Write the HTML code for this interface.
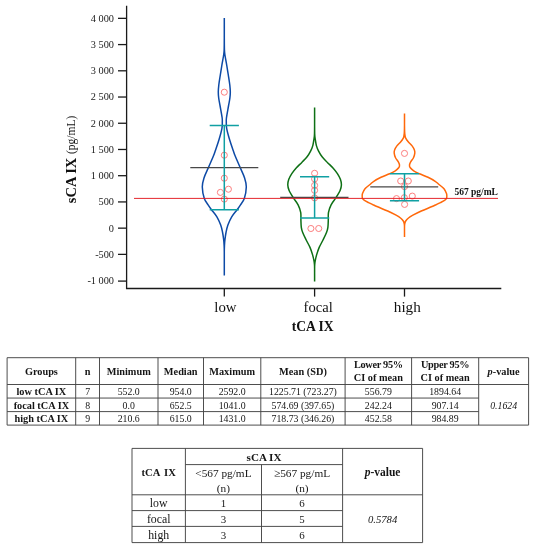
<!DOCTYPE html>
<html lang="en">
<head>
<meta charset="utf-8">
<title>sCA IX by tCA IX group</title>
<style>
html,body{margin:0;padding:0;background:#fff;}
body{width:535px;height:550px;position:relative;overflow:hidden;font-family:"Liberation Serif",serif;color:#151515;}
table{border-collapse:separate;border-spacing:0;table-layout:fixed;position:absolute;border:0;}
td,th{border:0;padding:0;text-align:center;vertical-align:middle;font-weight:normal;overflow:visible;white-space:nowrap;}
td>span,th>span{display:block;position:relative;}
#t2 tr.q0 th span{top:1.1px}#t2 tr.q0 th.s span{top:.9px;font-size:11.1px}#t2 tr.q0 th.t span{font-size:10.6px;top:1.8px;word-spacing:1.6px}#t2 tr.q1 span{top:1.1px;font-size:11.3px}#t2 tr.q2 span{top:.7px}#t2 tr.q3 span{top:.5px}#t2 tr.q4 span{top:.6px}#t2 td.pv span{top:.6px;font-size:10.7px}#t2 td:not(.l):not(.pv):not(.hd)>span{font-size:10.9px}#t2 td.l span{font-size:11.8px;margin-top:.7px}
#t1 tr.h span{top:.75px}#t1 tr.h th.two>span{top:1.2px;line-height:12.8px}#t1 tr.h th.two .ls{top:0}#t1 tr.r1 span{top:1.05px}#t1 tr.r2 span{top:1.1px}#t1 tr.r3 span{top:1.35px}#t1 td.pv span{top:1.3px}#t1 .ls{letter-spacing:-.3px}
#t1{left:7.10px;top:357.70px;width:521.50px;font-size:9.8px;line-height:12.4px;}
#t1 th{font-weight:bold;font-size:10.3px;}
#t1 td.g{font-weight:bold;font-size:10.3px;}
#t2{left:132.00px;top:448.40px;width:290.60px;font-size:11.5px;line-height:14.6px;}
#t2 th{font-weight:bold;}
i.p{font-style:italic;}
</style>
</head>
<body>
<svg width="535" height="550" viewBox="0 0 535 550" style="position:absolute;left:0;top:0">
<g stroke="#1a1a1a" stroke-width="1.3" fill="none">
<path d="M126.6 5.8 V288.50 H501.3"/>
<path d="M118 18.35 H126.6"/>
<path d="M118 44.58 H126.6"/>
<path d="M118 70.80 H126.6"/>
<path d="M118 97.03 H126.6"/>
<path d="M118 123.25 H126.6"/>
<path d="M118 149.48 H126.6"/>
<path d="M118 175.70 H126.6"/>
<path d="M118 201.93 H126.6"/>
<path d="M118 228.15 H126.6"/>
<path d="M118 254.38 H126.6"/>
<path d="M118 281.10 H126.6"/>
<path d="M224.3 288.50 V296.6"/>
<path d="M314.6 288.50 V296.6"/>
<path d="M404.5 288.50 V296.6"/>
</g>
<g font-family="'Liberation Serif', serif" font-size="10.3" fill="#1a1a1a" text-anchor="end">
<text x="114" y="21.70">4 000</text>
<text x="114" y="47.93">3 500</text>
<text x="114" y="74.15">3 000</text>
<text x="114" y="100.38">2 500</text>
<text x="114" y="126.60">2 000</text>
<text x="114" y="152.83">1 500</text>
<text x="114" y="179.05">1 000</text>
<text x="114" y="205.28">500</text>
<text x="114" y="231.50">0</text>
<text x="114" y="257.73">-500</text>
<text x="114" y="284.45">-1 000</text>
</g>
<g fill="none" stroke="#fb7878" stroke-width="0.95">
<circle cx="224.3" cy="92.2" r="3.05"/><circle cx="224.3" cy="155.2" r="3.05"/><circle cx="224.3" cy="178.2" r="3.05"/><circle cx="228.4" cy="189.2" r="3.05"/><circle cx="220.4" cy="192.4" r="3.05"/><circle cx="224.3" cy="199.1" r="3.05"/>
<circle cx="314.6" cy="173.3" r="3.05"/><circle cx="314.6" cy="178.9" r="3.05"/><circle cx="314.6" cy="185.4" r="3.05"/><circle cx="314.6" cy="190.3" r="3.05"/><circle cx="314.6" cy="197.9" r="3.05"/><circle cx="310.9" cy="228.5" r="3.05"/><circle cx="318.7" cy="228.5" r="3.05"/>
<circle cx="404.5" cy="153.4" r="3.05"/><circle cx="400.7" cy="181.0" r="3.05"/><circle cx="408.3" cy="181.0" r="3.05"/><circle cx="404.5" cy="186.6" r="3.05"/><circle cx="396.5" cy="198.6" r="3.05"/><circle cx="404.3" cy="197.7" r="3.05"/><circle cx="412.3" cy="196.1" r="3.05"/><circle cx="404.6" cy="204.4" r="3.05"/>
</g>
<path d="M224.30 17.90 C224.30 20.75 224.33 29.65 224.30 35.00 C224.28 40.35 224.28 46.50 224.15 50.00 C224.02 53.50 223.88 53.50 223.50 56.00 C223.12 58.50 222.43 61.83 221.90 65.00 C221.37 68.17 220.82 71.67 220.30 75.00 C219.78 78.33 219.13 82.17 218.80 85.00 C218.47 87.83 218.32 89.83 218.30 92.00 C218.28 94.17 218.40 95.67 218.70 98.00 C219.00 100.33 219.53 102.75 220.10 106.00 C220.67 109.25 221.73 114.83 222.10 117.50 C222.47 120.17 222.33 120.15 222.30 122.00 C222.27 123.85 222.47 125.60 221.90 128.60 C221.33 131.60 220.02 136.27 218.90 140.00 C217.78 143.73 216.08 148.42 215.20 151.00 C214.32 153.58 214.72 152.77 213.60 155.50 C212.48 158.23 210.10 163.67 208.50 167.40 C206.90 171.13 205.03 174.65 204.00 177.90 C202.97 181.15 202.25 183.48 202.30 186.90 C202.35 190.32 203.33 195.42 204.30 198.40 C205.27 201.38 206.90 202.92 208.10 204.80 C209.30 206.68 210.03 207.70 211.50 209.70 C212.97 211.70 215.37 214.25 216.90 216.80 C218.43 219.35 219.77 222.47 220.70 225.00 C221.63 227.53 222.00 229.50 222.50 232.00 C223.00 234.50 223.43 237.67 223.70 240.00 C223.98 242.33 224.05 244.00 224.15 246.00 C224.25 248.00 224.28 249.33 224.30 252.00 C224.33 254.67 224.30 258.07 224.30 262.00 C224.30 265.93 224.30 273.33 224.30 275.60 M224.30 17.90 C224.30 20.75 224.28 29.65 224.30 35.00 C224.33 40.35 224.32 46.50 224.45 50.00 C224.58 53.50 224.73 53.50 225.10 56.00 C225.48 58.50 226.17 61.83 226.70 65.00 C227.23 68.17 227.78 71.67 228.30 75.00 C228.82 78.33 229.47 82.17 229.80 85.00 C230.13 87.83 230.28 89.83 230.30 92.00 C230.32 94.17 230.20 95.67 229.90 98.00 C229.60 100.33 229.07 102.75 228.50 106.00 C227.93 109.25 226.87 114.83 226.50 117.50 C226.13 120.17 226.27 120.15 226.30 122.00 C226.33 123.85 226.13 125.60 226.70 128.60 C227.27 131.60 228.58 136.27 229.70 140.00 C230.82 143.73 232.52 148.42 233.40 151.00 C234.28 153.58 233.88 152.77 235.00 155.50 C236.12 158.23 238.50 163.67 240.10 167.40 C241.70 171.13 243.57 174.65 244.60 177.90 C245.63 181.15 246.35 183.48 246.30 186.90 C246.25 190.32 245.27 195.42 244.30 198.40 C243.33 201.38 241.70 202.92 240.50 204.80 C239.30 206.68 238.57 207.70 237.10 209.70 C235.63 211.70 233.23 214.25 231.70 216.80 C230.17 219.35 228.83 222.47 227.90 225.00 C226.97 227.53 226.60 229.50 226.10 232.00 C225.60 234.50 225.18 237.67 224.90 240.00 C224.62 242.33 224.55 244.00 224.45 246.00 C224.35 248.00 224.33 249.33 224.30 252.00 C224.28 254.67 224.30 258.07 224.30 262.00 C224.30 265.93 224.30 273.33 224.30 275.60" fill="none" stroke="#0d4aa6" stroke-width="1.5" stroke-linecap="butt" stroke-linejoin="round"/>
<path d="M314.60 107.50 C314.60 110.42 314.62 120.42 314.60 125.00 C314.58 129.58 314.58 132.50 314.45 135.00 C314.32 137.50 314.08 138.23 313.80 140.00 C313.52 141.77 313.33 143.73 312.80 145.60 C312.27 147.47 311.55 149.33 310.60 151.20 C309.65 153.07 308.57 154.93 307.10 156.80 C305.63 158.67 303.62 160.53 301.80 162.40 C299.98 164.27 297.87 166.13 296.20 168.00 C294.53 169.87 293.03 171.72 291.80 173.60 C290.57 175.48 289.47 177.42 288.80 179.30 C288.13 181.18 287.75 183.03 287.80 184.90 C287.85 186.77 288.43 188.77 289.10 190.50 C289.77 192.23 291.03 193.98 291.80 195.30 C292.57 196.62 292.65 196.82 293.70 198.40 C294.75 199.98 296.93 202.48 298.10 204.80 C299.27 207.12 300.23 209.80 300.70 212.30 C301.17 214.80 300.80 217.30 300.90 219.80 C301.00 222.30 301.00 225.18 301.30 227.30 C301.60 229.42 301.88 230.38 302.70 232.50 C303.52 234.62 304.98 237.52 306.20 240.00 C307.42 242.48 308.93 244.92 310.00 247.40 C311.07 249.88 311.93 252.65 312.60 254.90 C313.27 257.15 313.68 259.22 314.00 260.90 C314.32 262.58 314.40 263.65 314.50 265.00 C314.60 266.35 314.58 267.33 314.60 269.00 C314.62 270.67 314.60 272.92 314.60 275.00 C314.60 277.08 314.60 280.42 314.60 281.50 M314.60 107.50 C314.60 110.42 314.58 120.42 314.60 125.00 C314.62 129.58 314.62 132.50 314.75 135.00 C314.88 137.50 315.12 138.23 315.40 140.00 C315.68 141.77 315.87 143.73 316.40 145.60 C316.93 147.47 317.65 149.33 318.60 151.20 C319.55 153.07 320.63 154.93 322.10 156.80 C323.57 158.67 325.58 160.53 327.40 162.40 C329.22 164.27 331.33 166.13 333.00 168.00 C334.67 169.87 336.17 171.72 337.40 173.60 C338.63 175.48 339.73 177.42 340.40 179.30 C341.07 181.18 341.45 183.03 341.40 184.90 C341.35 186.77 340.77 188.77 340.10 190.50 C339.43 192.23 338.17 193.98 337.40 195.30 C336.63 196.62 336.55 196.82 335.50 198.40 C334.45 199.98 332.27 202.48 331.10 204.80 C329.93 207.12 328.97 209.80 328.50 212.30 C328.03 214.80 328.40 217.30 328.30 219.80 C328.20 222.30 328.20 225.18 327.90 227.30 C327.60 229.42 327.32 230.38 326.50 232.50 C325.68 234.62 324.22 237.52 323.00 240.00 C321.78 242.48 320.27 244.92 319.20 247.40 C318.13 249.88 317.27 252.65 316.60 254.90 C315.93 257.15 315.52 259.22 315.20 260.90 C314.88 262.58 314.80 263.65 314.70 265.00 C314.60 266.35 314.62 267.33 314.60 269.00 C314.58 270.67 314.60 272.92 314.60 275.00 C314.60 277.08 314.60 280.42 314.60 281.50" fill="none" stroke="#0e7015" stroke-width="1.5" stroke-linecap="butt" stroke-linejoin="round"/>
<path d="M404.50 113.60 C404.50 115.50 404.52 121.93 404.50 125.00 C404.48 128.07 404.43 130.25 404.35 132.00 C404.27 133.75 404.18 134.48 404.00 135.50 C403.82 136.52 403.87 137.02 403.30 138.10 C402.73 139.18 401.67 140.70 400.60 142.00 C399.53 143.30 397.90 144.58 396.90 145.90 C395.90 147.22 395.05 148.70 394.60 149.90 C394.15 151.10 394.05 151.80 394.20 153.10 C394.35 154.40 394.83 156.28 395.50 157.70 C396.17 159.12 397.53 160.40 398.20 161.60 C398.87 162.80 399.38 163.92 399.50 164.90 C399.62 165.88 399.60 166.52 398.90 167.50 C398.20 168.48 396.85 169.77 395.30 170.80 C393.75 171.83 391.98 172.62 389.60 173.70 C387.22 174.78 383.63 176.03 381.00 177.30 C378.37 178.57 375.63 180.10 373.80 181.30 C371.97 182.50 371.47 183.27 370.00 184.50 C368.53 185.73 366.25 187.20 365.00 188.70 C363.75 190.20 362.97 192.20 362.50 193.50 C362.03 194.80 362.20 195.68 362.20 196.50 C362.20 197.32 362.12 197.75 362.50 198.40 C362.88 199.05 363.50 199.70 364.50 200.40 C365.50 201.10 367.10 201.88 368.50 202.60 C369.90 203.32 371.38 204.00 372.90 204.70 C374.42 205.40 375.13 205.75 377.60 206.80 C380.07 207.85 384.62 209.60 387.70 211.00 C390.78 212.40 393.97 214.03 396.10 215.20 C398.23 216.37 399.30 217.03 400.50 218.00 C401.70 218.97 402.67 220.00 403.30 221.00 C403.93 222.00 404.10 223.00 404.30 224.00 C404.50 225.00 404.47 225.67 404.50 227.00 C404.53 228.33 404.50 230.33 404.50 232.00 C404.50 233.67 404.50 236.17 404.50 237.00 M404.50 113.60 C404.50 115.50 404.48 121.93 404.50 125.00 C404.52 128.07 404.57 130.25 404.65 132.00 C404.73 133.75 404.82 134.48 405.00 135.50 C405.18 136.52 405.13 137.02 405.70 138.10 C406.27 139.18 407.33 140.70 408.40 142.00 C409.47 143.30 411.10 144.58 412.10 145.90 C413.10 147.22 413.95 148.70 414.40 149.90 C414.85 151.10 414.95 151.80 414.80 153.10 C414.65 154.40 414.17 156.28 413.50 157.70 C412.83 159.12 411.47 160.40 410.80 161.60 C410.13 162.80 409.62 163.92 409.50 164.90 C409.38 165.88 409.40 166.52 410.10 167.50 C410.80 168.48 412.15 169.77 413.70 170.80 C415.25 171.83 417.02 172.62 419.40 173.70 C421.78 174.78 425.37 176.03 428.00 177.30 C430.63 178.57 433.37 180.10 435.20 181.30 C437.03 182.50 437.53 183.27 439.00 184.50 C440.47 185.73 442.75 187.20 444.00 188.70 C445.25 190.20 446.03 192.20 446.50 193.50 C446.97 194.80 446.80 195.68 446.80 196.50 C446.80 197.32 446.88 197.75 446.50 198.40 C446.12 199.05 445.50 199.70 444.50 200.40 C443.50 201.10 441.90 201.88 440.50 202.60 C439.10 203.32 437.62 204.00 436.10 204.70 C434.58 205.40 433.87 205.75 431.40 206.80 C428.93 207.85 424.38 209.60 421.30 211.00 C418.22 212.40 415.03 214.03 412.90 215.20 C410.77 216.37 409.70 217.03 408.50 218.00 C407.30 218.97 406.33 220.00 405.70 221.00 C405.07 222.00 404.90 223.00 404.70 224.00 C404.50 225.00 404.53 225.67 404.50 227.00 C404.47 228.33 404.50 230.33 404.50 232.00 C404.50 233.67 404.50 236.17 404.50 237.00" fill="none" stroke="#ff680a" stroke-width="1.5" stroke-linecap="butt" stroke-linejoin="round"/>
<g stroke="#484848" stroke-width="1.25" fill="none">
<path d="M190.3 167.6 H258.3"/>
<path d="M280.2 197.4 H348.5"/>
<path d="M370.3 186.9 H438.2"/>
</g>
<path d="M134 198.4 H498" stroke="#e31b23" stroke-width="0.95" fill="none"/>
<g stroke="#10a0a3" stroke-width="1.5" fill="none">
<path d="M209.7 125.6 H238.9 M209.7 209.7 H238.9 M224.3 125.6 V209.7" />
<path d="M300.0 176.7 H329.2 M300.0 218.0 H329.2 M314.6 176.7 V218.0" />
<path d="M389.9 173.7 H419.1 M389.9 200.8 H419.1 M404.5 173.7 V200.8" />
</g>
<g font-family="'Liberation Serif', serif" fill="#111">
<text x="476.2" y="195.2" font-size="9.5" font-weight="bold" text-anchor="middle">567 pg/mL</text>
<g text-anchor="middle"><text x="225.4" y="312.4" font-size="14.8">low</text><text x="318.2" y="312.4" font-size="14.6">focal</text><text x="407.3" y="312.4" font-size="15.2">high</text></g>
<text x="312.7" y="330.8" font-size="13.6" font-weight="bold" text-anchor="middle">tCA IX</text>
<text transform="translate(75.6 203.2) rotate(-90)" font-size="14.5" font-weight="bold">sCA IX <tspan font-size="11.5" font-weight="normal" dy="-0.9">(pg/mL)</tspan></text>
</g>
<g stroke="#444" stroke-width="0.95" fill="none">
<path d="M7.10 357.70 H528.60 M7.10 384.50 H528.60 M7.10 425.10 H528.60 M7.10 398.05 H478.70 M7.10 411.60 H478.70 M7.10 357.70 V425.10 M75.70 357.70 V425.10 M99.50 357.70 V425.10 M158.00 357.70 V425.10 M203.50 357.70 V425.10 M260.80 357.70 V425.10 M345.10 357.70 V425.10 M411.60 357.70 V425.10 M478.70 357.70 V425.10 M528.60 357.70 V425.10 M132.00 448.40 H422.60 M132.00 494.80 H422.60 M132.00 542.60 H422.60 M185.40 464.60 H342.60 M132.00 510.60 H342.60 M132.00 526.40 H342.60 M132.00 448.40 V542.60 M185.40 448.40 V542.60 M342.60 448.40 V542.60 M422.60 448.40 V542.60 M261.50 464.60 V542.60"/>
</g>
</svg>
<table id="t1">
<colgroup><col style="width:68.60px"><col style="width:23.80px"><col style="width:58.50px"><col style="width:45.50px"><col style="width:57.30px"><col style="width:84.30px"><col style="width:66.50px"><col style="width:67.10px"><col style="width:49.90px"></colgroup>
<tr class="h" style="height:26.80px"><th><span>Groups</span></th><th><span>n</span></th><th><span>Minimum</span></th><th><span>Median</span></th><th><span>Maximum</span></th><th><span>Mean (SD)</span></th><th class="two"><span><span class="ls">Lower 95%</span><br>CI of mean</span></th><th class="two"><span><span class="ls">Upper 95%</span><br>CI of mean</span></th><th><span><i class="p">p</i>-value</span></th></tr>
<tr class="r1" style="height:13.55px"><td class="g"><span>low tCA IX</span></td><td><span>7</span></td><td><span>552.0</span></td><td><span>954.0</span></td><td><span>2592.0</span></td><td><span>1225.71 (723.27)</span></td><td><span>556.79</span></td><td><span>1894.64</span></td><td rowspan="3" class="pv"><span><i class="p">0.1624</i></span></td></tr>
<tr class="r2" style="height:13.55px"><td class="g"><span>focal tCA IX</span></td><td><span>8</span></td><td><span>0.0</span></td><td><span>652.5</span></td><td><span>1041.0</span></td><td><span>574.69 (397.65)</span></td><td><span>242.24</span></td><td><span>907.14</span></td></tr>
<tr class="r3" style="height:13.50px"><td class="g"><span>high tCA IX</span></td><td><span>9</span></td><td><span>210.6</span></td><td><span>615.0</span></td><td><span>1431.0</span></td><td><span>718.73 (346.26)</span></td><td><span>452.58</span></td><td><span>984.89</span></td></tr>
</table>
<table id="t2">
<colgroup><col style="width:53.40px"><col style="width:76.10px"><col style="width:81.10px"><col style="width:80.00px"></colgroup>
<tr class="q0" style="height:16.20px"><th rowspan="2" class="t"><span>tCA IX</span></th><th colspan="2" class="s"><span>sCA IX</span></th><th rowspan="2"><span><i class="p">p</i>-value</span></th></tr>
<tr class="q1" style="height:30.20px"><td class="hd"><span>&lt;567 pg/mL<br>(n)</span></td><td class="hd"><span>&ge;567 pg/mL<br>(n)</span></td></tr>
<tr class="q2" style="height:15.80px"><td class="l"><span>low</span></td><td><span>1</span></td><td><span>6</span></td><td rowspan="3" class="pv"><span><i class="p">0.5784</i></span></td></tr>
<tr class="q3" style="height:15.80px"><td class="l"><span>focal</span></td><td><span>3</span></td><td><span>5</span></td></tr>
<tr class="q4" style="height:16.20px"><td class="l"><span>high</span></td><td><span>3</span></td><td><span>6</span></td></tr>
</table>
</body>
</html>
